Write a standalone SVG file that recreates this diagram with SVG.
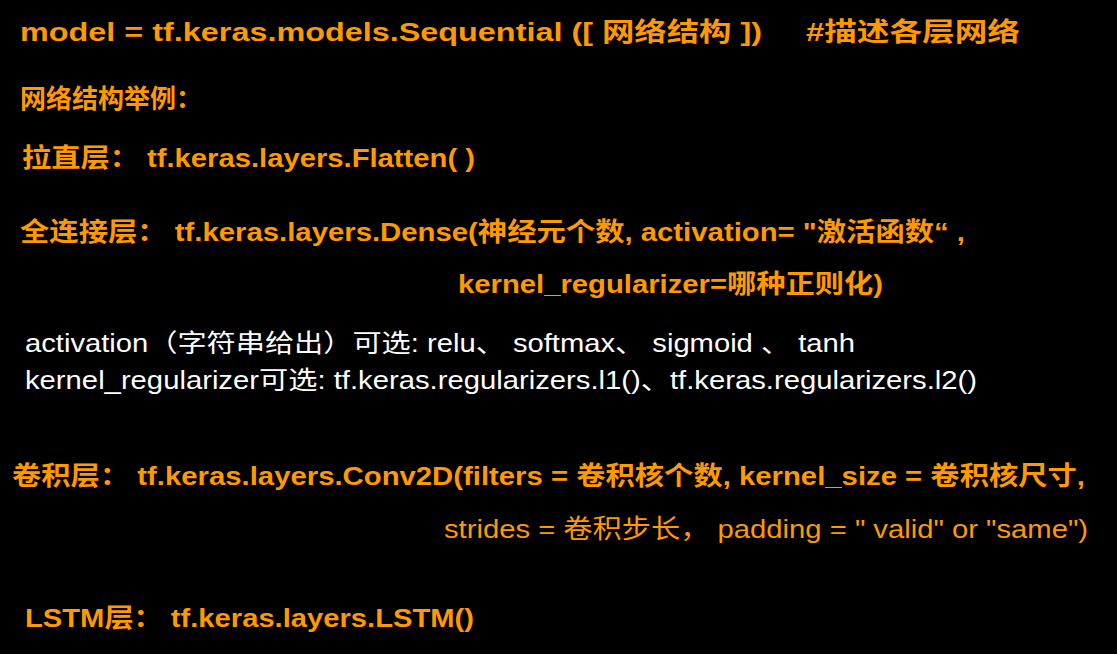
<svg xmlns="http://www.w3.org/2000/svg" width="1117" height="654" viewBox="0 0 1117 654">
<style>
text{font-family:"Liberation Sans","Noto Sans CJK SC",sans-serif;font-size:26px;}
.o{fill:#FF9900;font-weight:bold;}
.on{fill:#FF9900;}
.w{fill:#FFFFFF;font-size:25px;}
</style>
<rect width="1117" height="654" fill="#000"/>
<text class="o" x="20" y="41" font-size="28" textLength="742" lengthAdjust="spacingAndGlyphs">model = tf.keras.models.Sequential ([ 网络结构 ])</text>
<text class="o" x="806" y="41" font-size="28" textLength="214" lengthAdjust="spacingAndGlyphs">#描述各层网络</text>
<text class="o" x="20" y="108" font-size="24">网络结构举例：</text>
<text class="o" x="22" y="167" textLength="453" lengthAdjust="spacingAndGlyphs">拉直层： tf.keras.layers.Flatten( )</text>
<text class="o" x="20" y="241" textLength="945" lengthAdjust="spacingAndGlyphs">全连接层： tf.keras.layers.Dense(神经元个数, activation= "激活函数“ ,</text>
<text class="o" x="458" y="293" textLength="425" lengthAdjust="spacingAndGlyphs">kernel_regularizer=哪种正则化)</text>
<text class="w" x="25" y="352" textLength="830" lengthAdjust="spacingAndGlyphs">activation（字符串给出）可选: relu、 softmax、 sigmoid 、 tanh</text>
<text class="w" x="25" y="389" textLength="952" lengthAdjust="spacingAndGlyphs">kernel_regularizer可选: tf.keras.regularizers.l1()、tf.keras.regularizers.l2()</text>
<text class="o" x="12" y="485" textLength="1073" lengthAdjust="spacingAndGlyphs">卷积层： tf.keras.layers.Conv2D(filters = 卷积核个数, kernel_size = 卷积核尺寸,</text>
<text class="on" x="444" y="538" textLength="644" lengthAdjust="spacingAndGlyphs">strides = 卷积步长， padding = " valid" or "same")</text>
<text class="o" x="25" y="627" textLength="449" lengthAdjust="spacingAndGlyphs">LSTM层： tf.keras.layers.LSTM()</text>
</svg>
